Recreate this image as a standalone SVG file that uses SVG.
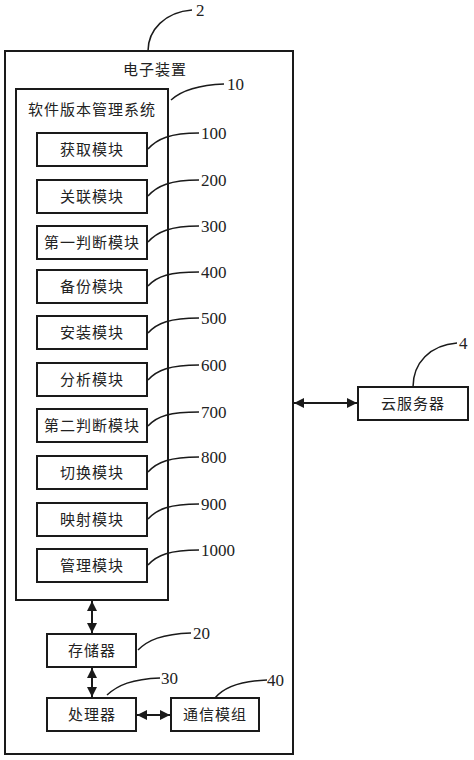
<svg xmlns="http://www.w3.org/2000/svg" width="474" height="760" viewBox="0 0 474 760">
<defs>
<style>
.box{fill:#fff;stroke:#1a1a1a;stroke-width:2}
.cn{font-family:"Noto Sans CJK SC","Noto Sans CJK JP",sans-serif;font-size:15px;fill:#222;text-anchor:middle;letter-spacing:1px}
.num{font-family:"Liberation Serif",serif;font-size:17px;fill:#222}
.lead{fill:none;stroke:#1a1a1a;stroke-width:1.5}
.conn{fill:none;stroke:#1a1a1a;stroke-width:2}
</style>
<marker id="ah" viewBox="0 0 10 10" refX="10" refY="5" markerWidth="5" markerHeight="5" orient="auto-start-reverse" markerUnits="strokeWidth">
<path d="M0,0 L10,5 L0,10 Z" fill="#1a1a1a"/>
</marker>
</defs>
<rect width="474" height="760" fill="#fff"/>

<g id="device">
<rect class="box" x="5" y="51" width="288" height="703"/>
<text class="cn" x="155" y="75">电子装置</text>
<path class="lead" d="M148,51 C148,30 165,12 192,10"/>
<text class="num" x="196" y="16">2</text>
</g>

<g id="system">
<rect class="box" x="16" y="89" width="152" height="511"/>
<text class="cn" x="92" y="115">软件版本管理系统</text>
<path class="lead" d="M171,100 C182,90 198,85 224,84"/>
<text class="num" x="227" y="90">10</text>
</g>

<g id="m100"><rect class="box" x="37" y="133" width="110" height="33"/><text class="cn" x="92" y="155">获取模块</text><path class="lead" d="M148,149 C157,139 170,133 199,133"/><text class="num" x="201" y="139">100</text></g>
<g id="m200"><rect class="box" x="37" y="180" width="110" height="33"/><text class="cn" x="92" y="202">关联模块</text><path class="lead" d="M148,196 C157,186 170,180 199,180"/><text class="num" x="201" y="186">200</text></g>
<g id="m300"><rect class="box" x="37" y="226" width="110" height="33"/><text class="cn" x="92" y="248">第一判断模块</text><path class="lead" d="M148,242 C157,232 170,226 199,226"/><text class="num" x="201" y="232">300</text></g>
<g id="m400"><rect class="box" x="37" y="270" width="110" height="33"/><text class="cn" x="92" y="292">备份模块</text><path class="lead" d="M148,286 C157,276 170,272 199,272"/><text class="num" x="201" y="278">400</text></g>
<g id="m500"><rect class="box" x="37" y="316" width="110" height="33"/><text class="cn" x="92" y="338">安装模块</text><path class="lead" d="M148,333 C157,323 170,318 199,318"/><text class="num" x="201" y="324">500</text></g>
<g id="m600"><rect class="box" x="37" y="363" width="110" height="33"/><text class="cn" x="92" y="385">分析模块</text><path class="lead" d="M148,380 C157,370 170,365 199,365"/><text class="num" x="201" y="371">600</text></g>
<g id="m700"><rect class="box" x="37" y="409" width="110" height="33"/><text class="cn" x="92" y="431">第二判断模块</text><path class="lead" d="M148,426 C157,416 170,412 199,412"/><text class="num" x="201" y="418">700</text></g>
<g id="m800"><rect class="box" x="37" y="456" width="110" height="33"/><text class="cn" x="92" y="478">切换模块</text><path class="lead" d="M148,472 C157,462 170,457 199,457"/><text class="num" x="201" y="463">800</text></g>
<g id="m900"><rect class="box" x="37" y="503" width="110" height="33"/><text class="cn" x="92" y="525">映射模块</text><path class="lead" d="M148,519 C157,509 170,504 199,504"/><text class="num" x="201" y="510">900</text></g>
<g id="m1000"><rect class="box" x="37" y="549" width="110" height="33"/><text class="cn" x="92" y="571">管理模块</text><path class="lead" d="M148,565 C157,555 170,550 199,550"/><text class="num" x="201" y="556">1000</text></g>

<g id="memory">
<rect class="box" x="47" y="634" width="89" height="33"/>
<text class="cn" x="92" y="656">存储器</text>
<path class="lead" d="M138,650 C148,640 162,634 191,633"/>
<text class="num" x="193" y="639">20</text>
</g>

<g id="processor">
<rect class="box" x="47" y="698" width="89" height="33"/>
<text class="cn" x="92" y="720">处理器</text>
<path class="lead" d="M107,695 C118,685 132,679 160,678"/>
<text class="num" x="161" y="684">30</text>
</g>

<g id="comm">
<rect class="box" x="171" y="698" width="88" height="33"/>
<text class="cn" x="215" y="720">通信模组</text>
<path class="lead" d="M215,698 C224,687 240,681 267,680"/>
<text class="num" x="267" y="686">40</text>
</g>

<g id="cloud">
<rect class="box" x="358" y="387" width="110" height="33"/>
<text class="cn" x="413" y="409">云服务器</text>
<path class="lead" d="M413,387 C413,363 430,345 457,343"/>
<text class="num" x="459" y="349">4</text>
</g>

<g id="connectors">
<line class="conn" x1="92" y1="601" x2="92" y2="633" marker-start="url(#ah)" marker-end="url(#ah)"/>
<line class="conn" x1="92" y1="668" x2="92" y2="697" marker-start="url(#ah)" marker-end="url(#ah)"/>
<line class="conn" x1="137" y1="715" x2="170" y2="715" marker-start="url(#ah)" marker-end="url(#ah)"/>
<line class="conn" x1="294" y1="403" x2="357" y2="403" marker-start="url(#ah)" marker-end="url(#ah)"/>
</g>
</svg>
